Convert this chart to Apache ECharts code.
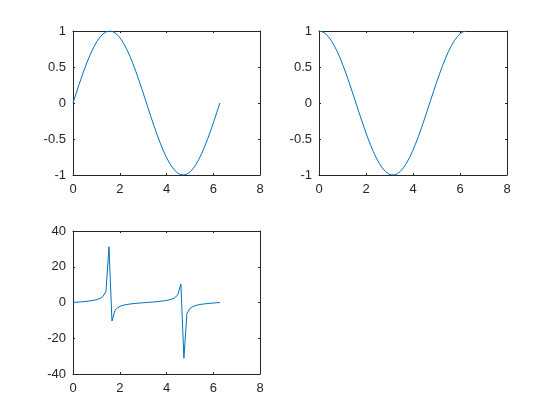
<!DOCTYPE html>
<html>
<head>
<meta charset="utf-8">
<script src="https://cdn.jsdelivr.net/npm/echarts@6/dist/echarts.min.js"></script>
<style>html,body{margin:0;padding:0;background:#fff;}#c{width:560px;height:420px;}</style>
</head>
<body>
<div id="c"></div>
<script>
var xValues = [0, 0.1282, 0.2565, 0.3847, 0.5129, 0.6411, 0.7694, 0.8976, 1.0258, 1.1541,
  1.2823, 1.4105, 1.5387, 1.6670, 1.7952, 1.9234, 2.0517, 2.1799, 2.3081, 2.4363,
  2.5646, 2.6928, 2.8210, 2.9493, 3.0775, 3.2057, 3.3339, 3.4622, 3.5904, 3.7186,
  3.8468, 3.9751, 4.1033, 4.2315, 4.3598, 4.4880, 4.6162, 4.7444, 4.8727, 5.0009,
  5.1291, 5.2574, 5.3856, 5.5138, 5.6420, 5.7703, 5.8985, 6.0267, 6.1550, 6.2832];
var sinValues = [0, 0.1279, 0.2537, 0.3753, 0.4907, 0.5981, 0.6957, 0.7818, 0.8551, 0.9144,
  0.9587, 0.9872, 0.9995, 0.9954, 0.9749, 0.9385, 0.8866, 0.8202, 0.7403, 0.6482,
  0.5455, 0.4339, 0.3151, 0.1912, 0.0641, -0.0641, -0.1912, -0.3151, -0.4339, -0.5455,
  -0.6482, -0.7403, -0.8202, -0.8866, -0.9385, -0.9749, -0.9954, -0.9995, -0.9872, -0.9587,
  -0.9144, -0.8551, -0.7818, -0.6957, -0.5981, -0.4907, -0.3753, -0.2537, -0.1279, 0];
var cosValues = [1, 0.9918, 0.9673, 0.9269, 0.8713, 0.8014, 0.7183, 0.6235, 0.5184, 0.4048,
  0.2845, 0.1596, 0.0321, -0.0960, -0.2225, -0.3454, -0.4625, -0.5721, -0.6723, -0.7615,
  -0.8381, -0.9010, -0.9491, -0.9816, -0.9979, -0.9979, -0.9816, -0.9491, -0.9010, -0.8381,
  -0.7615, -0.6723, -0.5721, -0.4625, -0.3454, -0.2225, -0.0960, 0.0321, 0.1596, 0.2845,
  0.4048, 0.5184, 0.6235, 0.7183, 0.8014, 0.8713, 0.9269, 0.9673, 0.9918, 1];
var tanValues = [0, 0.1290, 0.2623, 0.4049, 0.5632, 0.7463, 0.9685, 1.2540, 1.6496, 2.2589,
  3.3697, 6.185, 31.18, -10.366, -4.381, -2.717, -1.917, -1.4337, -1.1011, -0.8512,
  -0.6509, -0.4816, -0.3320, -0.1948, -0.0642, 0.0642, 0.1948, 0.3320, 0.4816, 0.6509,
  0.8512, 1.1011, 1.4337, 1.917, 2.717, 4.381, 10.366, -31.18, -6.185, -3.3697,
  -2.2589, -1.6496, -1.2540, -0.9685, -0.7463, -0.5632, -0.4049, -0.2623, -0.1290, 0];
var xTicks = {min: 0, max: 8, interval: 2};
var trigTicks = {min: -1, max: 1, interval: 0.5};
var tanTicks = {min: -40, max: 40, interval: 20};

var axisColor = '#262626';
var font = {color: axisColor, fontFamily: 'Liberation Sans, Arial, sans-serif', fontSize: 13};

function pairs(xs, ys) { return xs.map(function (x, i) { return [x, ys[i]]; }); }

var grids = [
  {left: 73, top: 31, width: 187, height: 144},
  {left: 319, top: 31, width: 188, height: 144},
  {left: 73, top: 231, width: 187, height: 143}
];
var yTicksPerGrid = [trigTicks, trigTicks, tanTicks];
var yData = [sinValues, cosValues, tanValues];

var xAxes = [], yAxes = [], series = [];
grids.forEach(function (g, i) {
  ['bottom', 'top'].forEach(function (pos) {
    xAxes.push({
      type: 'value', gridIndex: i, position: pos,
      min: xTicks.min, max: xTicks.max, interval: xTicks.interval,
      axisLine: {show: true, onZero: false, lineStyle: {color: axisColor, width: 1}},
      axisTick: {show: true, inside: true, length: 2, lineStyle: {color: axisColor, width: 1}},
      axisLabel: Object.assign({show: pos === 'bottom', margin: 8}, font),
      splitLine: {show: false}
    });
  });
  ['left', 'right'].forEach(function (pos) {
    var t = yTicksPerGrid[i];
    yAxes.push({
      type: 'value', gridIndex: i, position: pos,
      min: t.min, max: t.max, interval: t.interval,
      axisLine: {show: true, onZero: false, lineStyle: {color: axisColor, width: 1}},
      axisTick: {show: true, inside: true, length: 2, lineStyle: {color: axisColor, width: 1}},
      axisLabel: Object.assign({show: pos === 'left', margin: 7}, font),
      splitLine: {show: false}
    });
  });
  series.push({
    type: 'line', xAxisIndex: i * 2, yAxisIndex: i * 2,
    data: pairs(xValues, yData[i]),
    showSymbol: false, symbol: 'none',
    lineStyle: {color: '#0072BD', width: 1},
    animation: false
  });
});

var chart = echarts.init(document.getElementById('c'), null, {renderer: 'canvas'});
chart.setOption({
  animation: false,
  backgroundColor: '#ffffff',
  grid: grids,
  xAxis: xAxes,
  yAxis: yAxes,
  series: series
});
</script>
</body>
</html>
